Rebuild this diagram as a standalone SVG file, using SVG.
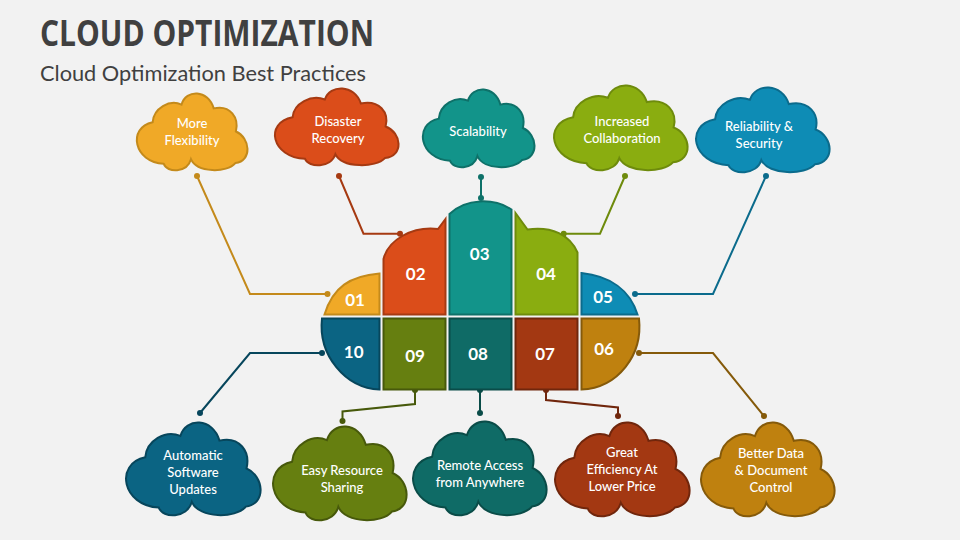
<svg xmlns="http://www.w3.org/2000/svg" width="960" height="540" viewBox="0 0 960 540">
<style>
text{font-family:"Lato","Open Sans","Liberation Sans",sans-serif}
.title{font-family:"Open Sans","Lato",sans-serif;font-size:36px;font-weight:700;fill:#404040}
.sub{font-size:21px;fill:#404040}
.lb{font-size:13px;fill:#fff;text-anchor:middle;font-weight:500}
.num{font-size:17px;font-weight:700;fill:#fff;text-anchor:middle}
.sh{stroke-width:2;stroke-linejoin:miter}
.cl{vector-effect:non-scaling-stroke}
.cn{fill:none;stroke-width:2}
.c1{fill:#F0A927;stroke:#C48A1B}.c2{fill:#DB4D1A;stroke:#A63A12}.c3{fill:#12948A;stroke:#0E7169}.c4{fill:#8AAD10;stroke:#6E8B0C}.c5{fill:#0E8CB5;stroke:#0B6B8C}
.c6{fill:#BF810F;stroke:#855A0A}.c7{fill:#A33812;stroke:#70260C}.c8{fill:#0F6B66;stroke:#0A4C48}.c9{fill:#667F10;stroke:#47590B}.c10{fill:#0B6483;stroke:#07465C}
.l1{stroke:#C48A1B}.l2{stroke:#A63A12}.l3{stroke:#0E7169}.l4{stroke:#6E8B0C}.l5{stroke:#0B6B8C}.l6{stroke:#855A0A}.l7{stroke:#70260C}.l8{stroke:#0A4C48}.l9{stroke:#47590B}.l10{stroke:#07465C}
.d1{fill:#C48A1B}.d2{fill:#A63A12}.d3{fill:#0E7169}.d4{fill:#6E8B0C}.d5{fill:#0B6B8C}.d6{fill:#855A0A}.d7{fill:#70260C}.d8{fill:#0A4C48}.d9{fill:#47590B}.d10{fill:#07465C}
</style>
<defs>
<path id="cloud" class="cl" stroke-width="2" d="M15 38C16 20 30 8 41 15C45 -5 65 -5 70 20C85 15 93 32 90 50C103 58 105 88 89.5 91C82 104 55 104 49.5 86C46 104 28 104 25 92C-2 90 -8 45 15 38Z"/>
</defs>
<rect width="960" height="540" fill="#F2F2F2"/>
<text class="title" x="40" y="46" textLength="334" lengthAdjust="spacingAndGlyphs">CLOUD OPTIMIZATION</text>
<text class="sub" x="40" y="81" textLength="326" lengthAdjust="spacingAndGlyphs">Cloud Optimization Best Practices</text>

<g id="connectors">
<path class="cn l1" d="M197 176L250 294H327.5"/><circle class="d1" cx="197" cy="176" r="3"/><circle class="d1" cx="327.5" cy="294" r="3"/>
<path class="cn l2" d="M339 176L363.5 233.7H400"/><circle class="d2" cx="339" cy="176" r="3"/><circle class="d2" cx="400" cy="233.7" r="3"/>
<path class="cn l3" d="M481 177V198"/><circle class="d3" cx="481" cy="177" r="3"/><circle class="d3" cx="481" cy="198" r="3"/>
<path class="cn l4" d="M625 176L600 233.7H563.7"/><circle class="d4" cx="625" cy="176" r="3"/><circle class="d4" cx="563.7" cy="233.7" r="3"/>
<path class="cn l5" d="M766 176L713 294H635"/><circle class="d5" cx="766" cy="176" r="3"/><circle class="d5" cx="635" cy="294" r="3"/>
<path class="cn l6" d="M639 353H713L764 416"/><circle class="d6" cx="639" cy="353" r="3"/><circle class="d6" cx="764" cy="416" r="3"/>
<path class="cn l7" d="M546 390V400L618 407.5V416"/><circle class="d7" cx="546" cy="390" r="3"/><circle class="d7" cx="618" cy="416" r="3"/>
<path class="cn l8" d="M480 390V413"/><circle class="d8" cx="480" cy="390" r="3"/><circle class="d8" cx="480" cy="413" r="3"/>
<path class="cn l9" d="M415 390V404L342.5 411.5V421"/><circle class="d9" cx="415" cy="390" r="3"/><circle class="d9" cx="342.5" cy="421" r="3"/>
<path class="cn l10" d="M322 353H250L200 413"/><circle class="d10" cx="322" cy="353" r="3"/><circle class="d10" cx="200" cy="413" r="3"/>
</g>

<g id="segment-01"><path class="sh c1" d="M324.5 314.5H379.5V273.5C350 276 333 287 324.5 314.5Z"/><text class="num" x="355" y="305.5">01</text></g>
<g id="segment-02"><path class="sh c2" d="M383.5 314.5H445.5V219L438 229C412 226 388 240 383.5 259Z"/><text class="num" x="415.7" y="279.7">02</text></g>
<g id="segment-03"><path class="sh c3" d="M449.5 314.5H511.5V209.5C494 198 466 198 449.5 214Z"/><text class="num" x="479.7" y="259.7">03</text></g>
<g id="segment-04"><path class="sh c4" d="M515.5 314.5V213L527.5 229.5C552 226 570 235 577.5 252.5V314.5Z"/><text class="num" x="546" y="279.7">04</text></g>
<g id="segment-05"><path class="sh c5" d="M581.5 314.5V273C610 276 630 290 637.5 314.5Z"/><text class="num" x="603" y="303">05</text></g>
<g id="segment-06"><path class="sh c6" d="M581.5 318.5H639C643 355 618 388 581.5 389.5Z"/><text class="num" x="604" y="355">06</text></g>
<g id="segment-07"><path class="sh c7" d="M515.5 318.5H577.5V389.5H515.5Z"/><text class="num" x="545" y="360">07</text></g>
<g id="segment-08"><path class="sh c8" d="M449.5 318.5H511.5V389.5H449.5Z"/><text class="num" x="478" y="360">08</text></g>
<g id="segment-09"><path class="sh c9" d="M383.5 318.5H445.5V389.5H383.5Z"/><text class="num" x="415" y="361.7">09</text></g>
<g id="segment-10"><path class="sh c10" d="M379.5 318.5H322C318 355 345 388 379.5 389.5Z"/><text class="num" x="353.7" y="357.7">10</text></g>

<g id="cloud-01"><use href="#cloud" class="c1" transform="translate(136 93) scale(1.11 .77)"/><text class="lb" x="192" y="128">More</text><text class="lb" x="192" y="145">Flexibility</text></g>
<g id="cloud-02"><use href="#cloud" class="c2" transform="translate(274 88) scale(1.24 .77)"/><text class="lb" x="338" y="126">Disaster</text><text class="lb" x="338" y="143">Recovery</text></g>
<g id="cloud-03"><use href="#cloud" class="c3" transform="translate(422 89) scale(1.12 .78)"/><text class="lb" x="478" y="136">Scalability</text></g>
<g id="cloud-04"><use href="#cloud" class="c4" transform="translate(553 85) scale(1.34 .85)"/><text class="lb" x="622" y="126">Increased</text><text class="lb" x="622" y="143">Collaboration</text></g>
<g id="cloud-05"><use href="#cloud" class="c5" transform="translate(695 87) scale(1.34 .85)"/><text class="lb" x="759" y="131">Reliability &amp;</text><text class="lb" x="759" y="148">Security</text></g>
<g id="cloud-06"><use href="#cloud" class="c6" transform="translate(700 422) scale(1.34 .94)"/><text class="lb" x="771" y="458">Better Data</text><text class="lb" x="771" y="475">&amp; Document</text><text class="lb" x="771" y="492">Control</text></g>
<g id="cloud-07"><use href="#cloud" class="c7" transform="translate(554 422) scale(1.35 .94)"/><text class="lb" x="622" y="457">Great</text><text class="lb" x="622" y="474">Efficiency At</text><text class="lb" x="622" y="491">Lower Price</text></g>
<g id="cloud-08"><use href="#cloud" class="c8" transform="translate(412 421) scale(1.34 .94)"/><text class="lb" x="480" y="470">Remote Access</text><text class="lb" x="480" y="487">from Anywhere</text></g>
<g id="cloud-09"><use href="#cloud" class="c9" transform="translate(272 426) scale(1.34 .94)"/><text class="lb" x="342" y="475">Easy Resource</text><text class="lb" x="342" y="492">Sharing</text></g>
<g id="cloud-10"><use href="#cloud" class="c10" transform="translate(125 422) scale(1.35 .93)"/><text class="lb" x="193" y="460">Automatic</text><text class="lb" x="193" y="477">Software</text><text class="lb" x="193" y="494">Updates</text></g>
</svg>
